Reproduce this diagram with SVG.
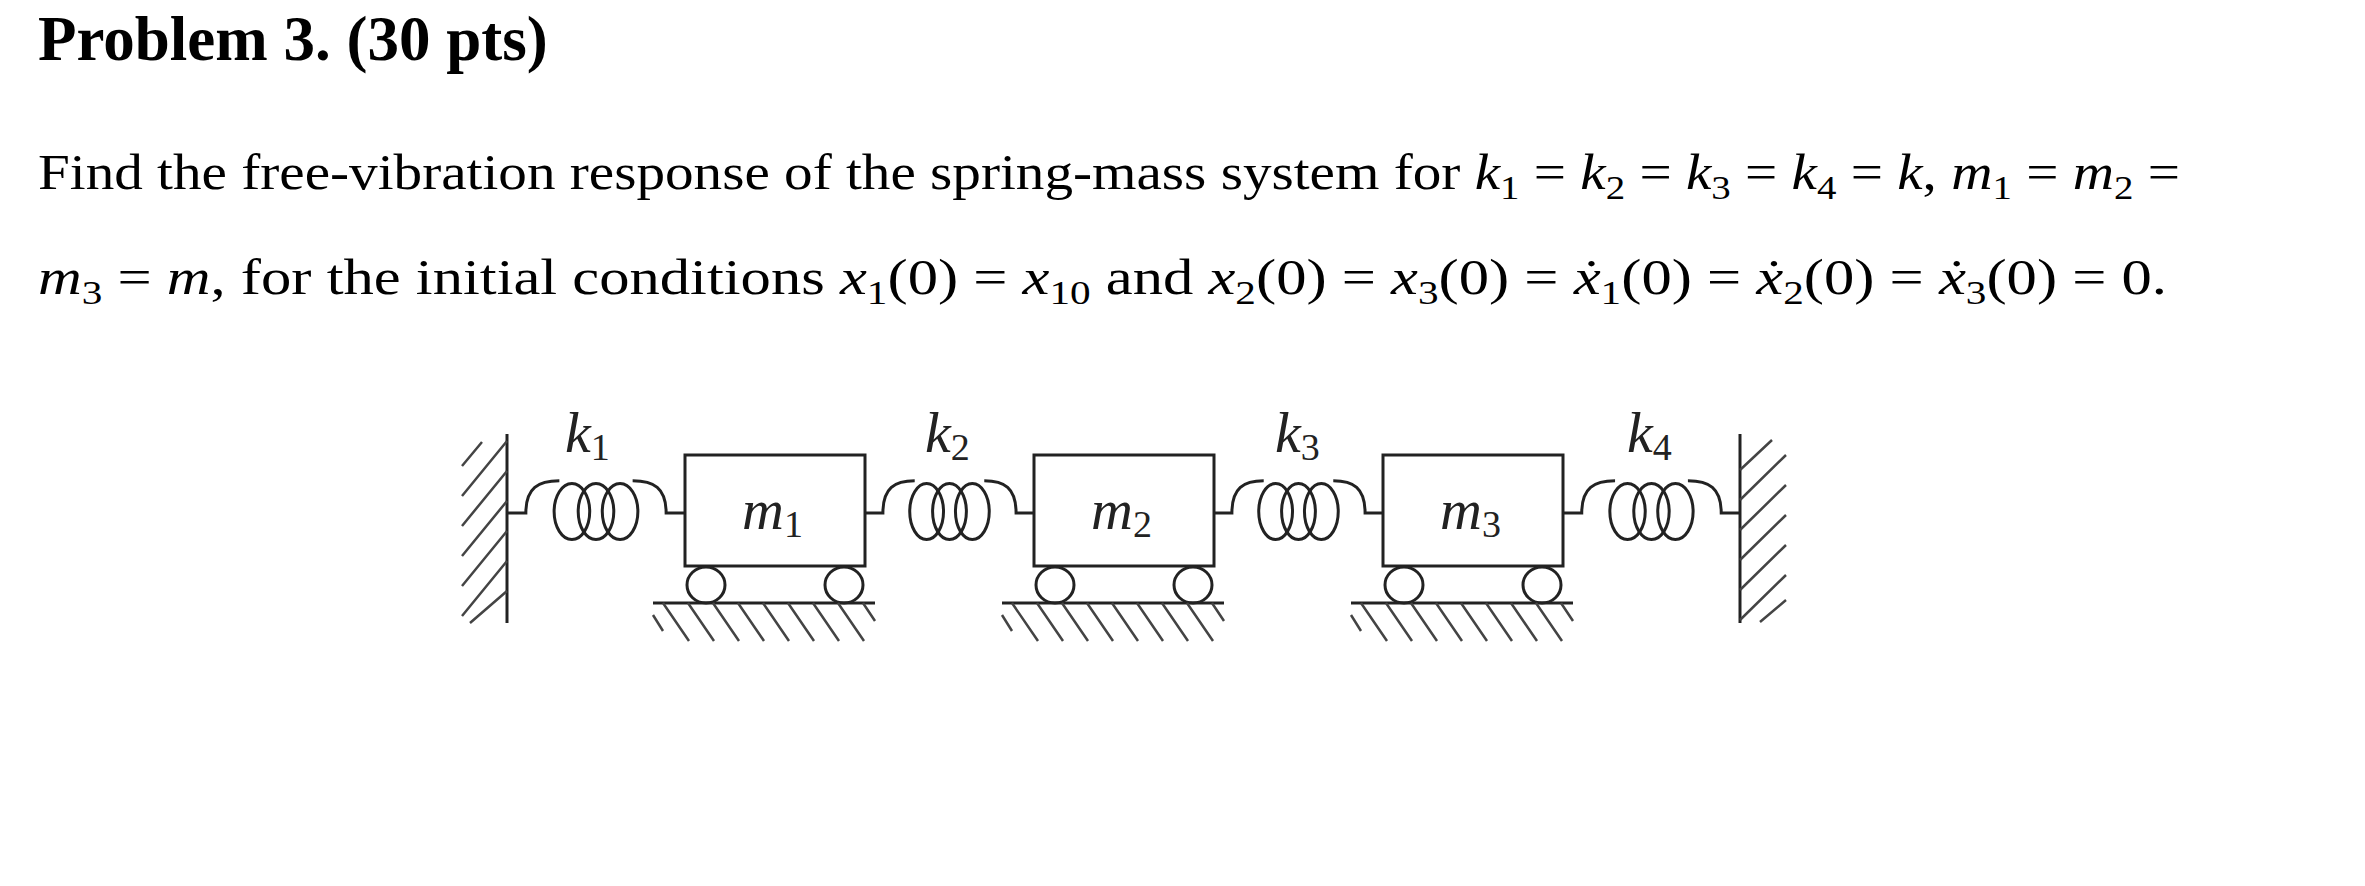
<svg xmlns="http://www.w3.org/2000/svg" width="2365" height="886" viewBox="0 0 2365 886">
<style>
.t{font-family:"Liberation Serif",serif;fill:#000}
.mi{font-style:italic}
.ln{stroke:#222;stroke-width:3;fill:none}
.h{stroke:#444;stroke-width:2.5;fill:none}
.lab{font-family:"Liberation Serif",serif;font-style:italic;font-size:58px;fill:#222}
</style>
<defs>
<g id="spring">
<path class="ln" vector-effect="non-scaling-stroke" d="M0,0 H18 C18,-36 30,-46 50,-46 M120,-46 C140,-46 152,-36 152,0 H170"/>
<ellipse class="ln" vector-effect="non-scaling-stroke" cx="62" cy="-2" rx="17" ry="40"/>
<ellipse class="ln" vector-effect="non-scaling-stroke" cx="85" cy="-2" rx="17" ry="40"/>
<ellipse class="ln" vector-effect="non-scaling-stroke" cx="108" cy="-2" rx="17" ry="40"/>
</g>
<g id="cart">
<rect class="ln" x="0" y="0" width="180" height="111"/>
<ellipse class="ln" cx="21" cy="130" rx="19" ry="18"/>
<ellipse class="ln" cx="159" cy="130" rx="19" ry="18"/>
<line class="ln" x1="-32" y1="148" x2="190" y2="148"/>
<path class="h" d="M-32,160 L-22,176 M-22,148 L4,186 M3,148 L29,186 M28,148 L54,186 M53,148 L79,186 M78,148 L104,186 M103,148 L129,186 M128,148 L154,186 M153,148 L179,186 M178,148 L190,166"/>
</g>
</defs>
<text class="t" x="38" y="60" font-size="63" font-weight="bold">Problem 3. (30 pts)</text>
<text class="t" x="38" y="189" font-size="50" textLength="2142" lengthAdjust="spacingAndGlyphs">Find the free-vibration response of the spring-mass system for <tspan class="mi">k</tspan><tspan font-size="34" dy="10">1</tspan><tspan dy="-10"> = </tspan><tspan class="mi">k</tspan><tspan font-size="34" dy="10">2</tspan><tspan dy="-10"> = </tspan><tspan class="mi">k</tspan><tspan font-size="34" dy="10">3</tspan><tspan dy="-10"> = </tspan><tspan class="mi">k</tspan><tspan font-size="34" dy="10">4</tspan><tspan dy="-10"> = </tspan><tspan class="mi">k</tspan>, <tspan class="mi">m</tspan><tspan font-size="34" dy="10">1</tspan><tspan dy="-10"> = </tspan><tspan class="mi">m</tspan><tspan font-size="34" dy="10">2</tspan><tspan dy="-10"> =</tspan></text>
<text class="t" x="38" y="294" font-size="50" textLength="2129" lengthAdjust="spacingAndGlyphs"><tspan class="mi">m</tspan><tspan font-size="34" dy="10">3</tspan><tspan dy="-10"> = </tspan><tspan class="mi">m</tspan>, for the initial conditions <tspan class="mi">x</tspan><tspan font-size="34" dy="10">1</tspan><tspan dy="-10">(0) = </tspan><tspan class="mi">x</tspan><tspan font-size="34" dy="10">10</tspan><tspan dy="-10"> and </tspan><tspan class="mi">x</tspan><tspan font-size="34" dy="10">2</tspan><tspan dy="-10">(0) = </tspan><tspan class="mi">x</tspan><tspan font-size="34" dy="10">3</tspan><tspan dy="-10">(0) = </tspan><tspan class="mi">ẋ</tspan><tspan font-size="34" dy="10">1</tspan><tspan dy="-10">(0) = </tspan><tspan class="mi">ẋ</tspan><tspan font-size="34" dy="10">2</tspan><tspan dy="-10">(0) = </tspan><tspan class="mi">ẋ</tspan><tspan font-size="34" dy="10">3</tspan><tspan dy="-10">(0) = 0.</tspan></text>
<g id="wall-left">
<line class="ln" x1="507" y1="434" x2="507" y2="623"/>
<path class="h" d="M462,466 L482,442 M462,496 L507,441 M462,526 L507,471 M462,556 L507,501 M462,586 L507,531 M462,616 L507,561 M470,623 L507,591"/>
</g>
<g id="wall-right">
<line class="ln" x1="1740" y1="434" x2="1740" y2="623"/>
<path class="h" d="M1740,470 L1772,440 M1740,500 L1786,455 M1740,530 L1786,485 M1740,560 L1786,515 M1740,590 L1786,545 M1740,620 L1786,575 M1760,622 L1786,600"/>
</g>
<g id="m1"><use href="#cart" x="685" y="455"/><text class="lab" x="742" y="529">m<tspan font-size="38" font-style="normal" dy="8">1</tspan></text></g>
<g id="m2"><use href="#cart" x="1034" y="455"/><text class="lab" x="1091" y="529">m<tspan font-size="38" font-style="normal" dy="8">2</tspan></text></g>
<g id="m3"><use href="#cart" x="1383" y="455"/><text class="lab" x="1440" y="529">m<tspan font-size="38" font-style="normal" dy="8">3</tspan></text></g>
<g id="connectors">
<use href="#spring" transform="translate(507,513) scale(1.047,0.7)"/>
<use href="#spring" transform="translate(865,513) scale(0.994,0.7)"/>
<use href="#spring" transform="translate(1214,513) scale(0.994,0.7)"/>
<use href="#spring" transform="translate(1563,513) scale(1.041,0.7)"/>
</g>
<g id="k1"><text class="lab" x="565" y="452">k<tspan font-size="38" font-style="normal" dy="8">1</tspan></text></g>
<g id="k2"><text class="lab" x="925" y="452">k<tspan font-size="38" font-style="normal" dy="8">2</tspan></text></g>
<g id="k3"><text class="lab" x="1275" y="452">k<tspan font-size="38" font-style="normal" dy="8">3</tspan></text></g>
<g id="k4"><text class="lab" x="1627" y="452">k<tspan font-size="38" font-style="normal" dy="8">4</tspan></text></g>
</svg>
